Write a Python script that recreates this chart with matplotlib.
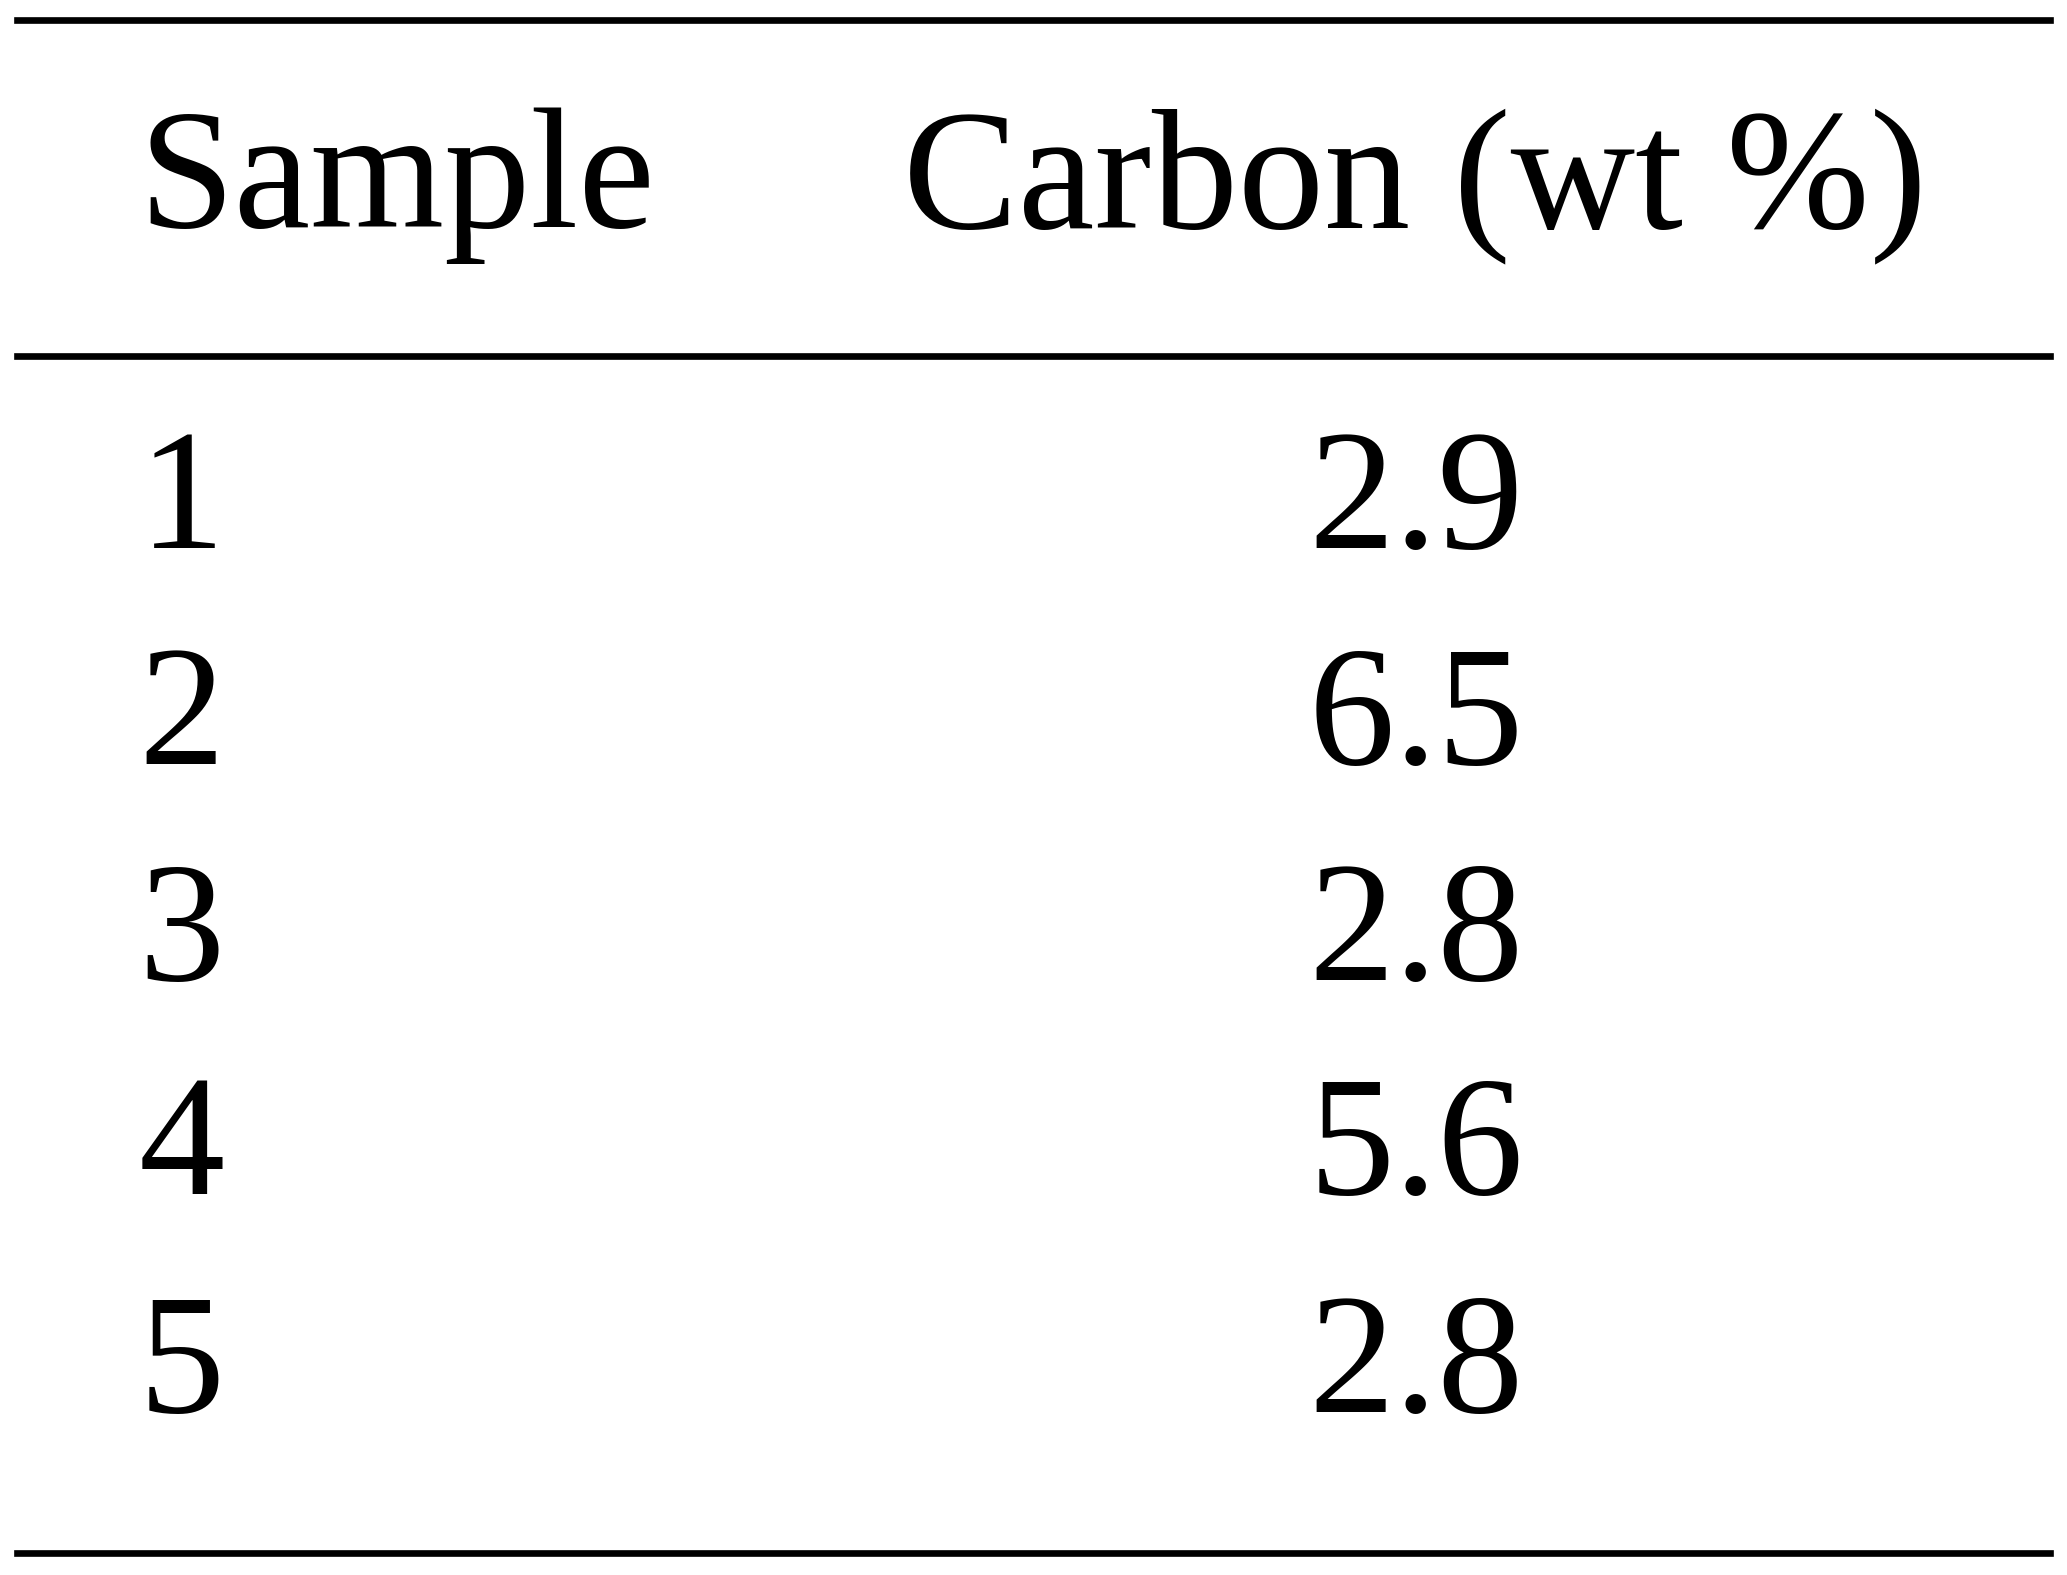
import matplotlib
matplotlib.use("Agg")
import matplotlib.pyplot as plt
from matplotlib.lines import Line2D

headers = ["Sample", "Carbon (wt %)"]
samples = ["1", "2", "3", "4", "5"]
carbon = ["2.9", "6.5", "2.8", "5.6", "2.8"]

fig = plt.figure(figsize=(20.67, 15.75), dpi=100)
fig.patch.set_facecolor("white")
fs = 124
fam = "Liberation Serif"

for y in [0.987, 0.774, 0.014]:
    fig.add_artist(Line2D([0.008, 0.992], [y, y], color="black", lw=4.8,
                          transform=fig.transFigure))

fig.text(0.067, 0.882, headers[0], fontsize=fs, family=fam, va="center", ha="left")
fig.text(0.437, 0.882, headers[1], fontsize=fs, family=fam, va="center", ha="left")

row_y = [0.678, 0.541, 0.404, 0.268, 0.130]
for y, s, c in zip(row_y, samples, carbon):
    fig.text(0.067, y, s, fontsize=fs, family=fam, va="center", ha="left")
    fig.text(0.633, y, c, fontsize=fs, family=fam, va="center", ha="left")

fig.savefig("out.png", dpi=100, facecolor="white")
